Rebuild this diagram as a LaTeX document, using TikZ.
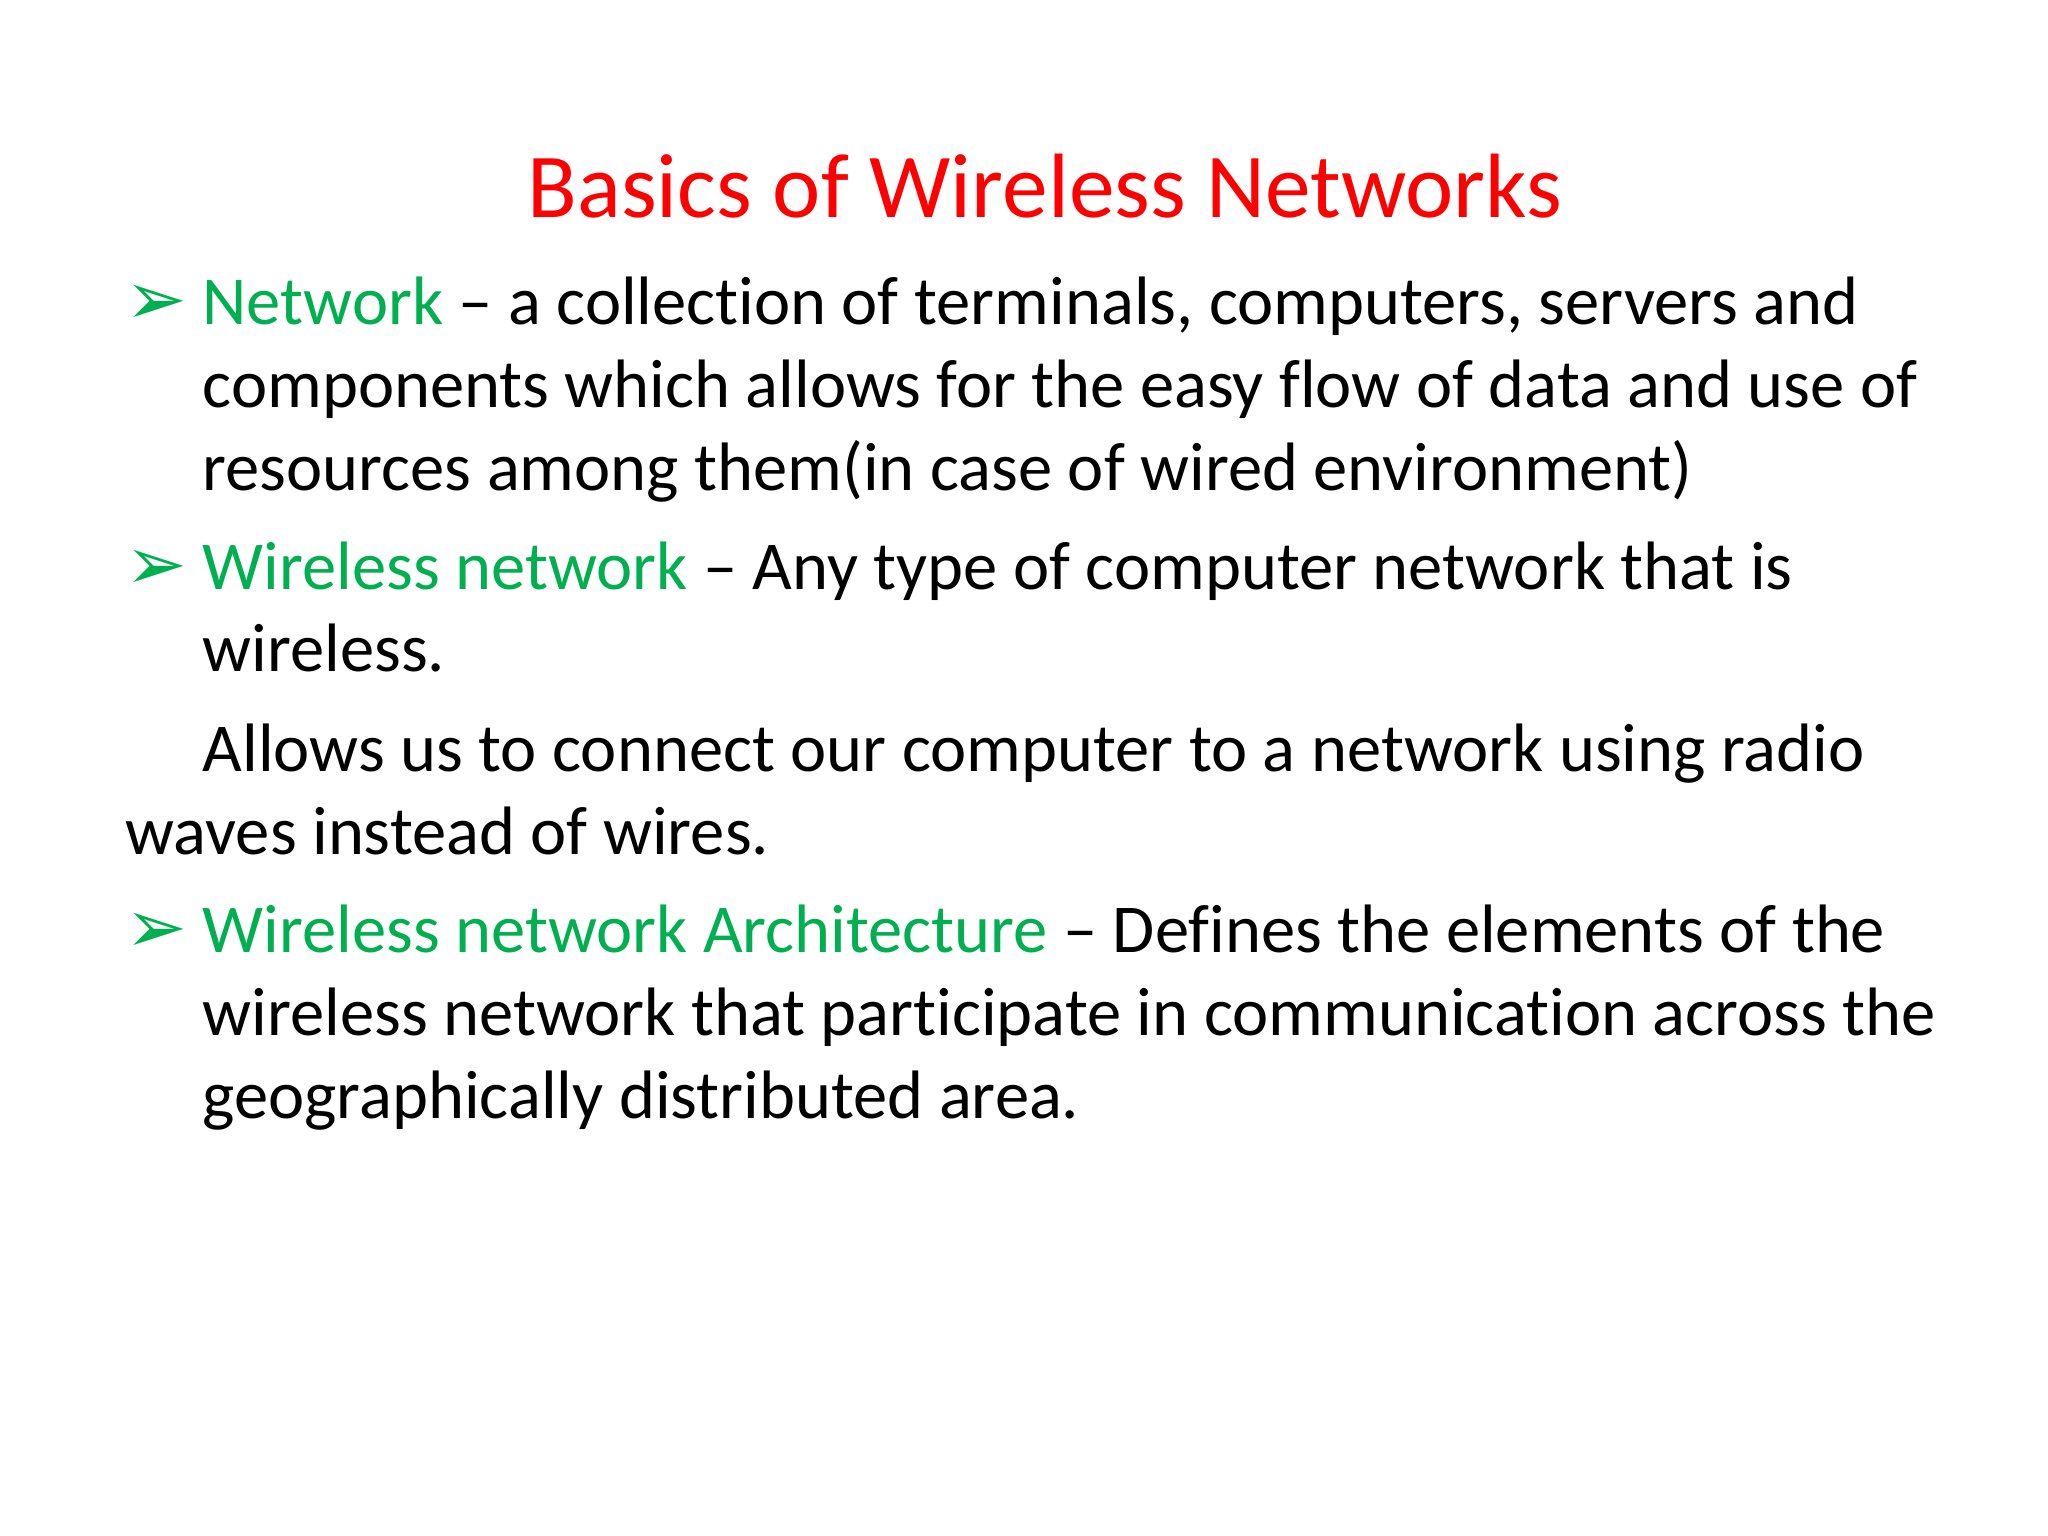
\documentclass[tikz,border=0pt]{standalone}
\usepackage{fontspec}
\setmainfont[Ligatures=NoCommon]{Carlito}
\newfontfamily\symfont{DejaVu Sans}
\definecolor{tgreen}{RGB}{0,176,80}
\definecolor{tred}{RGB}{255,0,0}
\begin{document}
\begin{tikzpicture}[x=1cm,y=1cm,
  line/.style={anchor=base west,inner sep=0pt,font=\fontsize{19.5}{23}\selectfont},
  bul/.style={anchor=base west,inner sep=0pt,text=tgreen,font=\symfont\fontsize{21}{24}\selectfont}]
\useasboundingbox (0,0) rectangle (20.48,15.36);
\fill[white] (0,0) rectangle (20.48,15.36);
\node[anchor=base,inner sep=0pt,text=tred,font=\fontsize{26}{31}\selectfont] (title) at (10.45,13.18) {Basics of Wireless Networks};
\node[bul] (b1) at (1.25,12.11) {➢};
\node[line] (l1) at (2.02,12.11) {\textcolor{tgreen}{Network} -- a collection of terminals, computers, servers and};
\node[line] (l2) at (2.02,11.28) {components which allows for the easy flow of data and use of};
\node[line] (l3) at (2.02,10.45) {resources among them(in case of wired environment)};
\node[bul] (b2) at (1.25,9.46) {➢};
\node[line] (l4) at (2.02,9.46) {\textcolor{tgreen}{Wireless network} -- Any type of computer network that is};
\node[line] (l5) at (2.02,8.64) {wireless.};
\node[line] (l6) at (2.02,7.64) {Allows us to connect our computer to a network using radio};
\node[line] (l7) at (1.25,6.81) {waves instead of wires.};
\node[bul] (b3) at (1.25,5.83) {➢};
\node[line] (l8) at (2.02,5.83) {\textcolor{tgreen}{Wireless network Architecture} -- Defines the elements of the};
\node[line] (l9) at (2.02,5.00) {wireless network that participate in communication across the};
\node[line] (l10) at (2.02,4.17) {geographically distributed area.};
\end{tikzpicture}
\end{document}
